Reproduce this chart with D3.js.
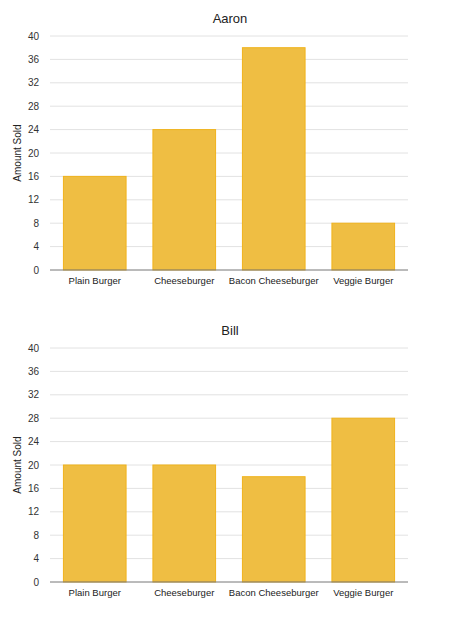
<html>
<head>
  <script src="https://d3js.org/d3.v7.min.js"></script>
  <style>
    body { margin: 0; background: #fff; }
    text { font-family: "Liberation Sans", Arial, sans-serif; }
  </style>
</head>
<body>
  <script>

    var categories = ['Plain Burger', 'Cheeseburger', 'Bacon Cheeseburger', 'Veggie Burger'];
    var people = ['Aaron', 'Bill'];
    var aaronSold = [16, 24, 38, 8];
    var billSold = [20, 20, 18, 28];
    var yTicks = [0, 4, 8, 12, 16, 20, 24, 28, 32, 36, 40];

    var width = 450,
        height = 620;

    var svg = d3.select('body')
      .append('svg')
      .attr('width', width)
      .attr('height', height);

    var left = 50, right = 408;

    var x = d3.scaleBand()
      .domain(categories)
      .range([left, right])
      .paddingInner(0.3)
      .paddingOuter(0.15);

    function drawChart(name, values, top) {
      var g = svg.append('g');
      var y = d3.scaleLinear()
        .domain([0, 40])
        .range([top + 234, top]);

      g.append('text')
        .attr('x', 230)
        .attr('y', top - 13)
        .attr('text-anchor', 'middle')
        .attr('font-size', 13)
        .attr('fill', '#222')
        .text(name);

      g.selectAll('line.grid')
        .data(yTicks.slice(1))
        .enter()
        .append('line')
        .attr('x1', left)
        .attr('x2', right)
        .attr('y1', d => y(d))
        .attr('y2', d => y(d))
        .attr('stroke', '#e2e2e2')
        .attr('stroke-width', 1);

      g.selectAll('text.tick')
        .data(yTicks)
        .enter()
        .append('text')
        .attr('x', 39)
        .attr('y', d => y(d))
        .attr('dy', '0.35em')
        .attr('text-anchor', 'end')
        .attr('font-size', 10)
        .attr('fill', '#333')
        .text(d => d);

      g.selectAll('rect')
        .data(values)
        .enter()
        .append('rect')
        .attr('x', (d, i) => x(categories[i]))
        .attr('y', d => y(d))
        .attr('width', x.bandwidth())
        .attr('height', d => y(0) - y(d))
        .attr('fill', '#efbe43')
        .attr('stroke', '#f0b31c')
        .attr('stroke-width', 1);

      g.append('line')
        .attr('x1', left)
        .attr('x2', right)
        .attr('y1', y(0))
        .attr('y2', y(0))
        .attr('stroke', '#777')
        .attr('stroke-width', 1);

      g.selectAll('text.cat')
        .data(categories)
        .enter()
        .append('text')
        .attr('x', d => x(d) + x.bandwidth() / 2)
        .attr('y', y(0) + 14)
        .attr('text-anchor', 'middle')
        .attr('font-size', 9.5)
        .attr('fill', '#222')
        .text(d => d);

      g.append('text')
        .attr('transform', 'translate(21,' + (top + 117) + ') rotate(-90)')
        .attr('text-anchor', 'middle')
        .attr('font-size', 10)
        .attr('fill', '#222')
        .text('Amount Sold');
    }

    drawChart(people[0], aaronSold, 36);
    drawChart(people[1], billSold, 348);

  </script>
</body>
</html>
